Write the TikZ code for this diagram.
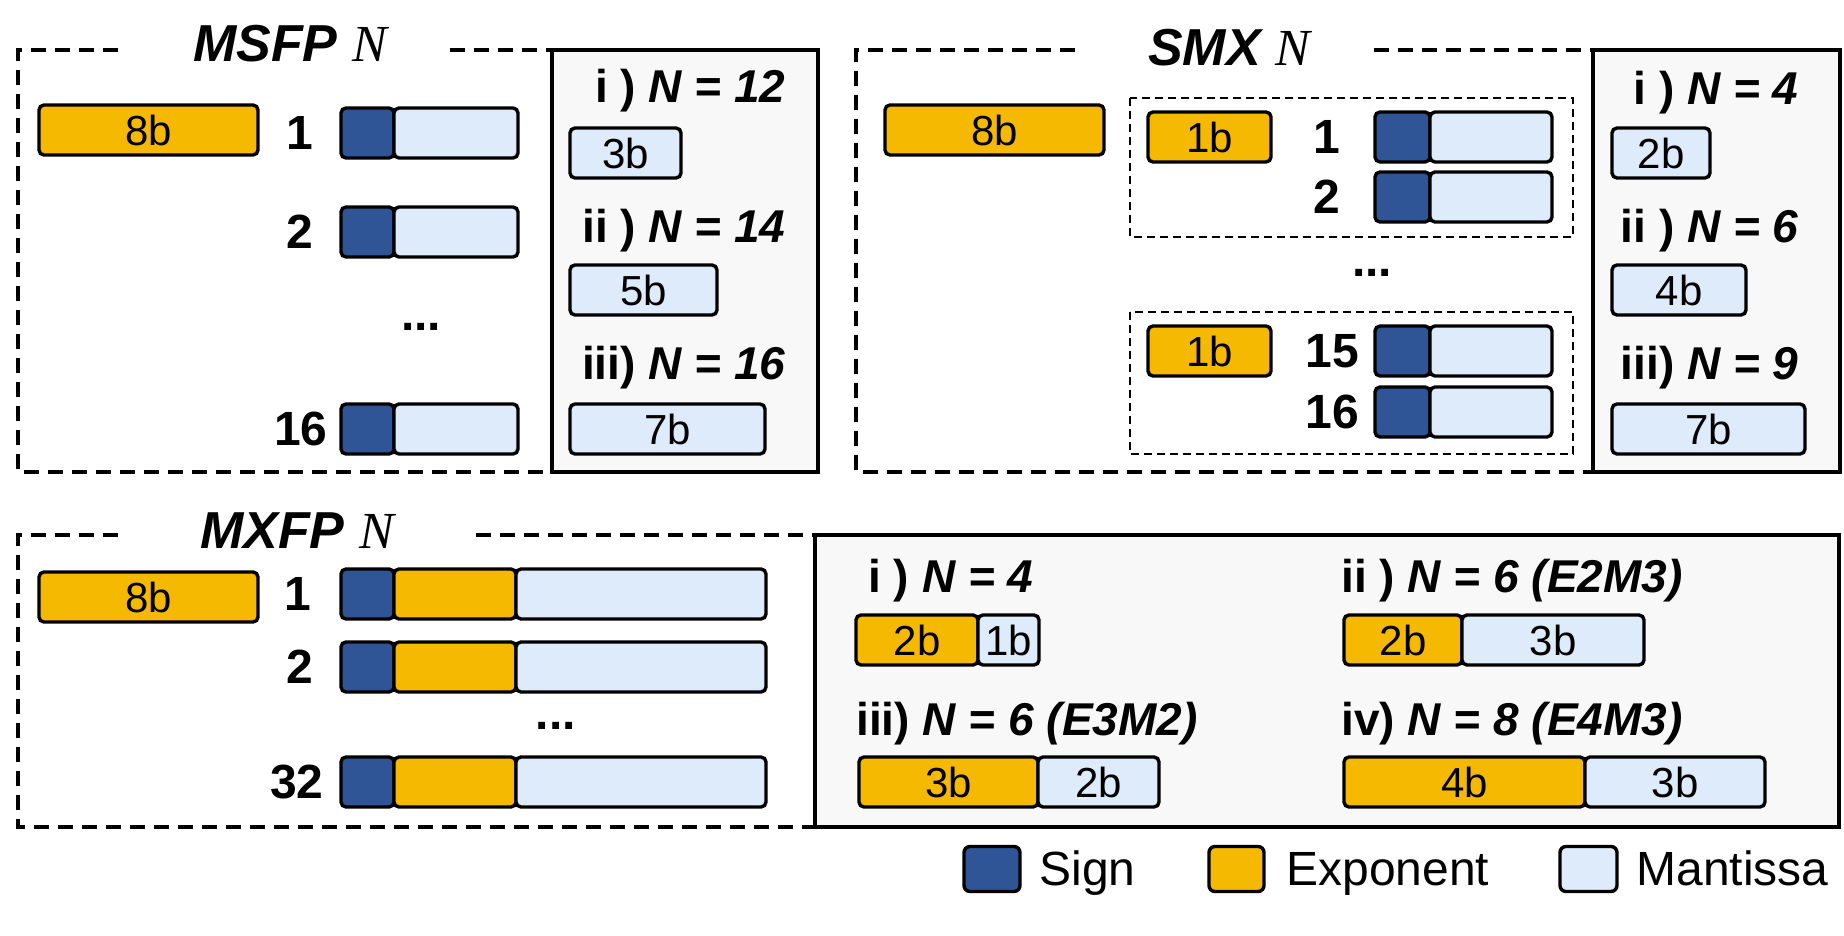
\documentclass[tikz,border=0pt]{standalone}
\usepackage{fontspec}
\setmainfont{Liberation Sans}
\newfontfamily\serifN{Liberation Serif}
\usetikzlibrary{positioning}

\definecolor{signblue}{RGB}{47,85,151}
\definecolor{expgold}{RGB}{244,185,0}
\definecolor{mantblue}{RGB}{222,235,250}
\definecolor{panelgray}{RGB}{248,248,248}

\begin{document}
\begin{tikzpicture}[x=0.5pt,y=0.5pt,yscale=-1,
  bits/.style={draw=black, line width=1.7pt, rounded corners=2.5pt, inner sep=0pt, outer sep=0pt, minimum height=25pt, font=\fontsize{21}{21}\selectfont},
  sgn/.style={bits, fill=signblue, minimum width=26.5pt},
  expo/.style={bits, fill=expgold},
  mant/.style={bits, fill=mantblue},
  rowlbl/.style={font=\fontsize{24}{24}\selectfont\bfseries, inner sep=0pt},
  optlbl/.style={font=\fontsize{23}{23}\selectfont\bfseries, inner sep=0pt},
  ttl/.style={font=\fontsize{26}{26}\selectfont\bfseries\itshape, inner sep=0pt, anchor=base},
  legtxt/.style={font=\fontsize{24}{24}\selectfont, inner sep=0pt, anchor=base west},
  dots/.style={font=\fontsize{24}{24}\selectfont\bfseries, inner sep=0pt, anchor=base},
  outerdash/.style={line width=2pt, dash pattern={on 7.5pt off 4.5pt}},
  innerdash/.style={line width=1.3pt, dash pattern={on 4pt off 2.5pt}},
  panel/.style={draw=black, line width=2pt, fill=panelgray}
]
\useasboundingbox (0,0) rectangle (1844,936);

%%%%%%%%%%%%%%%% MSFP N
%Dashed frame
\draw [outerdash] (118,50) -- (18,50) -- (18,472) -- (552,472) ;
\draw [outerdash] (450,50) -- (552,50) ;
%Options panel
\draw [panel] (552,50) rectangle (818,472) ;
% Title
\node [ttl] (msfp-title) at (290,62) {MSFP {\serifN\mdseries N}};
% Shared exponent
\node [expo, minimum width=109.5pt] (msfp-scale) at (148.5,130) {8b};
% Element 1
\node [rowlbl] (msfp-n1) at (300,133) {1};
\node [sgn, anchor=west] (msfp-s1) at (341,133) {};
\node [mant, anchor=west, minimum width=62pt] (msfp-m1) at (msfp-s1.east) {};
% Element 2
\node [rowlbl] (msfp-n2) at (300,232) {2};
\node [sgn, anchor=west] (msfp-s2) at (341,232) {};
\node [mant, anchor=west, minimum width=62pt] (msfp-m2) at (msfp-s2.east) {};
% Dots
\node [dots] (msfp-dots) at (421,331) {...};
% Element 16
\node [rowlbl] (msfp-n16) at (301,429) {16};
\node [sgn, anchor=west] (msfp-s16) at (341,429) {};
\node [mant, anchor=west, minimum width=62pt] (msfp-m16) at (msfp-s16.east) {};
% Options
\node [optlbl, anchor=base east] (msfp-o1) at (786,103) {i ) \textit{N = 12}};
\node [mant, anchor=west, minimum width=55.5pt] (msfp-b1) at (570,153) {3b};
\node [optlbl, anchor=base east] (msfp-o2) at (786,243) {ii ) \textit{N = 14}};
\node [mant, anchor=west, minimum width=73.5pt] (msfp-b2) at (570,290) {5b};
\node [optlbl, anchor=base east] (msfp-o3) at (786,380) {iii) \textit{N = 16}};
\node [mant, anchor=west, minimum width=97.5pt] (msfp-b3) at (570,429) {7b};

%%%%%%%%%%%%%%%% SMX N
%Dashed frame
\draw [outerdash] (1075,50) -- (856,50) -- (856,472) -- (1593,472) ;
\draw [outerdash] (1374,50) -- (1593,50) ;
%Options panel
\draw [panel] (1593,50) rectangle (1840,472) ;
% Title
\node [ttl] (smx-title) at (1229,66) {SMX {\serifN\mdseries N}};
% Shared exponent
\node [expo, minimum width=109.5pt] (smx-scale) at (994.5,130) {8b};
%Sub-group 1
\draw [innerdash] (1130,98) rectangle (1573,237) ;
\node [expo, anchor=west, minimum width=61.5pt] (smx-sub1) at (1148,137) {1b};
\node [rowlbl] (smx-n1) at (1327,137) {1};
\node [sgn, anchor=west, minimum width=27.5pt] (smx-s1) at (1375,137) {};
\node [mant, anchor=west, minimum width=61pt] (smx-m1) at (smx-s1.east) {};
\node [rowlbl] (smx-n2) at (1327,197) {2};
\node [sgn, anchor=west, minimum width=27.5pt] (smx-s2) at (1375,197) {};
\node [mant, anchor=west, minimum width=61pt] (smx-m2) at (smx-s2.east) {};
% Dots
\node [dots] (smx-dots) at (1372,277) {...};
%Sub-group 8
\draw [innerdash] (1130,312) rectangle (1573,454) ;
\node [expo, anchor=west, minimum width=61.5pt] (smx-sub8) at (1148,351) {1b};
\node [rowlbl] (smx-n15) at (1332,351) {15};
\node [sgn, anchor=west, minimum width=27.5pt] (smx-s15) at (1375,351) {};
\node [mant, anchor=west, minimum width=61pt] (smx-m15) at (smx-s15.east) {};
\node [rowlbl] (smx-n16) at (1332,412) {16};
\node [sgn, anchor=west, minimum width=27.5pt] (smx-s16) at (1375,412) {};
\node [mant, anchor=west, minimum width=61pt] (smx-m16) at (smx-s16.east) {};
% Options
\node [optlbl, anchor=base east] (smx-o1) at (1799,105) {i ) \textit{N = 4}};
\node [mant, anchor=west, minimum width=49pt] (smx-b1) at (1612,153) {2b};
\node [optlbl, anchor=base east] (smx-o2) at (1799,243) {ii ) \textit{N = 6}};
\node [mant, anchor=west, minimum width=67pt] (smx-b2) at (1612,290) {4b};
\node [optlbl, anchor=base east] (smx-o3) at (1799,380) {iii) \textit{N = 9}};
\node [mant, anchor=west, minimum width=96.5pt] (smx-b3) at (1612,429) {7b};

%%%%%%%%%%%%%%%% MXFP N
%Dashed frame
\draw [outerdash] (118,535) -- (18,535) -- (18,827) -- (815,827) ;
\draw [outerdash] (476,535) -- (815,535) ;
%Options panel
\draw [panel] (815,535) rectangle (1839,827) ;
% Title
\node [ttl] (mxfp-title) at (297,548) {MXFP {\serifN\mdseries N}};
% Shared exponent
\node [expo, minimum width=109.5pt] (mxfp-scale) at (148.5,597) {8b};
% Element 1
\node [rowlbl] (mxfp-n1) at (298,594) {1};
\node [sgn, anchor=west] (mxfp-s1) at (341,594) {};
\node [expo, anchor=west, minimum width=61pt] (mxfp-e1) at (mxfp-s1.east) {};
\node [mant, anchor=west, minimum width=125pt] (mxfp-m1) at (mxfp-e1.east) {};
% Element 2
\node [rowlbl] (mxfp-n2) at (300,667) {2};
\node [sgn, anchor=west] (mxfp-s2) at (341,667) {};
\node [expo, anchor=west, minimum width=61pt] (mxfp-e2) at (mxfp-s2.east) {};
\node [mant, anchor=west, minimum width=125pt] (mxfp-m2) at (mxfp-e2.east) {};
% Dots
\node [dots] (mxfp-dots) at (556,729) {...};
% Element 32
\node [rowlbl] (mxfp-n32) at (297,782) {32};
\node [sgn, anchor=west] (mxfp-s32) at (341,782) {};
\node [expo, anchor=west, minimum width=61pt] (mxfp-e32) at (mxfp-s32.east) {};
\node [mant, anchor=west, minimum width=125pt] (mxfp-m32) at (mxfp-e32.east) {};
% Options
\node [optlbl, anchor=base west] (mxfp-o1) at (868,592) {i ) \textit{N = 4}};
\node [expo, anchor=west, minimum width=61pt] (mxfp-e-o1) at (856,640) {2b};
\node [mant, anchor=west, minimum width=30.5pt] (mxfp-m-o1) at (mxfp-e-o1.east) {1b};
\node [optlbl, anchor=base west] (mxfp-o2) at (1341,592) {ii ) \textit{N = 6 (E2M3)}};
\node [expo, anchor=west, minimum width=59pt] (mxfp-e-o2) at (1344,640) {2b};
\node [mant, anchor=west, minimum width=91pt] (mxfp-m-o2) at (mxfp-e-o2.east) {3b};
\node [optlbl, anchor=base west] (mxfp-o3) at (856,735) {iii) \textit{N = 6 (E3M2)}};
\node [expo, anchor=west, minimum width=89.5pt] (mxfp-e-o3) at (859,782) {3b};
\node [mant, anchor=west, minimum width=60.5pt] (mxfp-m-o3) at (mxfp-e-o3.east) {2b};
\node [optlbl, anchor=base west] (mxfp-o4) at (1341,735) {iv) \textit{N = 8 (E4M3)}};
\node [expo, anchor=west, minimum width=120.5pt] (mxfp-e-o4) at (1344,782) {4b};
\node [mant, anchor=west, minimum width=90pt] (mxfp-m-o4) at (mxfp-e-o4.east) {3b};

%%%%%%%%%%%%%%%% Legend
\node [sgn, rounded corners=3pt, minimum width=28pt, minimum height=22.5pt] (key-sign) at (992,869) {};
\node [legtxt] (key-sign-txt) at (1039,885) {Sign};
\node [expo, rounded corners=3pt, minimum width=27.5pt, minimum height=22.5pt] (key-exp) at (1236.5,869) {};
\node [legtxt] (key-exp-txt) at (1286,885) {Exponent};
\node [mant, rounded corners=3pt, minimum width=28.5pt, minimum height=22.5pt] (key-mant) at (1588.5,869) {};
\node [legtxt] (key-mant-txt) at (1636,885) {Mantissa};

\end{tikzpicture}
\end{document}
